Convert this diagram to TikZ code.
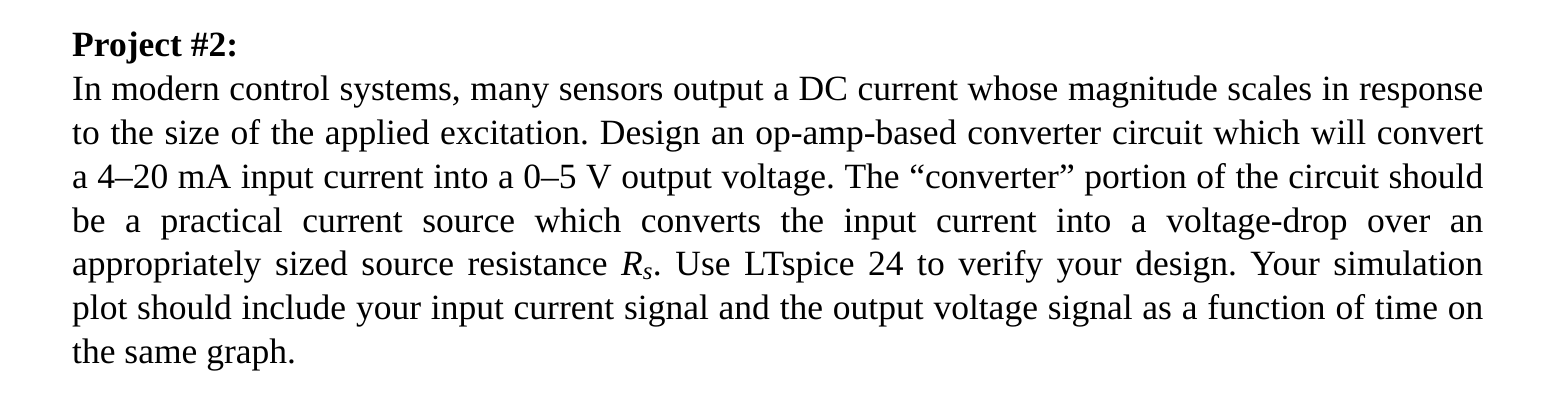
\documentclass[tikz,border=0pt]{standalone}
\usepackage{fontspec}
\setmainfont{Liberation Serif}
\begin{document}
\frenchspacing
\begin{tikzpicture}[x=1pt,y=1pt,every node/.style={inner sep=0pt,anchor=base west,font=\fontsize{35.5}{40}\selectfont}]
\useasboundingbox (0,0) rectangle (1561,410);
\newcommand{\jl}[1]{\makebox[1411pt][s]{#1}}
\node (t) at (72,353) {\textbf{Project \#2:}};
\node (l1) at (72,309) {\jl{In modern control systems, many sensors output a DC current whose magnitude scales in response}};
\node (l2) at (72,265.3) {\jl{to the size of the applied excitation. Design an op-amp-based converter circuit which will convert}};
\node (l3) at (72,221.6) {\jl{a 4--20 mA input current into a 0--5 V output voltage. The ``converter'' portion of the circuit should}};
\node (l4) at (72,177.9) {\jl{be a practical current source which converts the input current into a voltage-drop over an}};
\node (l5) at (72,134.2) {\jl{appropriately sized source resistance \textit{R\textsubscript{s}}. Use LTspice 24 to verify your design. Your simulation}};
\node (l6) at (72,90.5) {\jl{plot should include your input current signal and the output voltage signal as a function of time on}};
\node (l7) at (72,46.8) {the same graph.};
\end{tikzpicture}
\end{document}
